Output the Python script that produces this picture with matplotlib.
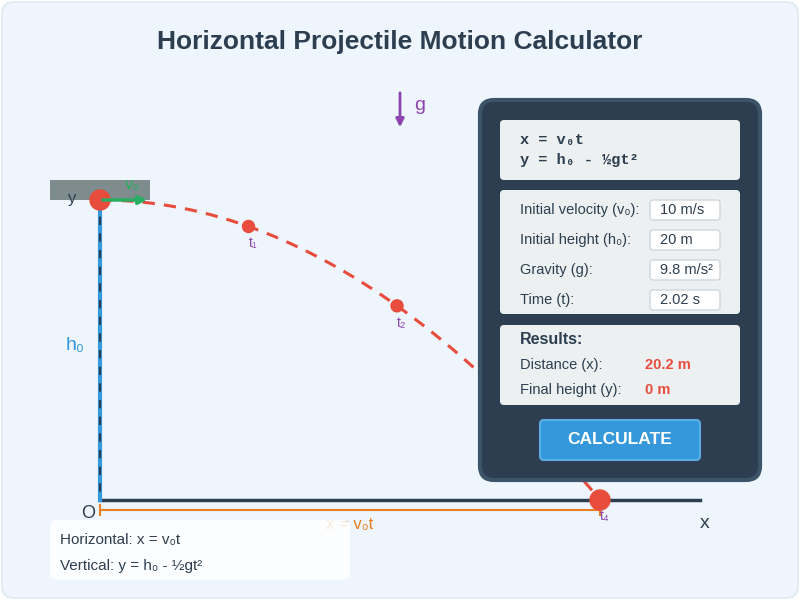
import numpy as np
import matplotlib
matplotlib.use('Agg')
import matplotlib.pyplot as plt
from matplotlib.patches import FancyBboxPatch, Rectangle, Circle

plt.rcParams['font.family'] = ['Liberation Sans', 'DejaVu Sans']

# physics values
V0 = 10.0      # m/s
H0 = 20.0      # m
G = 9.8        # m/s^2
T_FLIGHT = 2.02
MARK_TIMES = [0.6, 1.2]
MARK_LABELS = ['t₁', 't₂']
INPUT_LABELS = ['Initial velocity (v₀):', 'Initial height (h₀):', 'Gravity (g):', 'Time (t):']
INPUT_VALUES = ['10 m/s', '20 m', '9.8 m/s²', '2.02 s']
RESULT_LABELS = ['Distance (x):', 'Final height (y):']
RESULT_VALUES = ['20.2 m', '0 m']

# pixel mapping of the scene
X0, Y0 = 100, 200          # launch point
SX = 500 / (V0 * T_FLIGHT)  # px per metre horizontally
SY = 300 / H0               # px per metre vertically


def to_px(xm, ym):
    return X0 + xm * SX, Y0 + (H0 - ym) * SY


fig = plt.figure(figsize=(8, 6), dpi=100)
ax = fig.add_axes([0, 0, 1, 1])
ax.set_xlim(0, 800)
ax.set_ylim(600, 0)
ax.axis('off')
fig.patch.set_facecolor('white')

ax.add_patch(FancyBboxPatch((2, 2), 796, 596, boxstyle='round,pad=0,rounding_size=12',
                            facecolor='#eef5fd', edgecolor='#dde6f0', lw=1))
ax.text(400, 42, 'Horizontal Projectile Motion Calculator', ha='center', va='center',
        fontsize=19, fontweight='bold', color='#2c3e50')

# ground / platform
ax.plot([100, 700], [500, 500], color='#2c3e50', lw=2.5)
ax.add_patch(Rectangle((50, 180), 100, 20, facecolor='#7f8c8d'))
ax.text(72, 198, 'y', fontsize=12, color='#2c3e50', ha='center', va='center')
ax.plot([100, 100], [200, 500], color='#3498db', lw=3)
ax.plot([100, 100], [200, 500], color='#2c3e50', lw=1.5, ls=(0, (4, 4)))
ax.text(75, 345, 'h₀', fontsize=14, color='#3498db', ha='center', va='center')
ax.text(88, 513, 'O', fontsize=13, color='#2c3e50', ha='center', va='center')
ax.text(705, 524, 'x', fontsize=14, color='#2c3e50', ha='center', va='center')

# trajectory
t = np.linspace(0, T_FLIGHT, 200)
px, py = to_px(V0 * t, H0 - 0.5 * G * t ** 2)
ax.plot(px, py, color='#e74c3c', lw=2.2, ls=(0, (4, 3)), zorder=2)
for tm, lab in zip(MARK_TIMES, MARK_LABELS):
    mx, my = to_px(V0 * tm, H0 - 0.5 * G * tm ** 2)
    ax.add_patch(Circle((mx, my), 6, color='#e74c3c', zorder=3))
    ax.text(mx + 5, my + 17, lab, fontsize=10, color='#8e44ad', ha='center', va='center')

# velocity arrow
ax.add_patch(Circle((100, 200), 10, color='#e74c3c', zorder=4))
ax.annotate('', xy=(150, 200), xytext=(100, 200),
            arrowprops=dict(arrowstyle='-|>', color='#27ae60', lw=2.5, mutation_scale=12), zorder=5)
ax.text(133, 185, 'v₀', fontsize=12, color='#27ae60', ha='center', va='center')

# gravity arrow
ax.annotate('', xy=(400, 130), xytext=(400, 90),
            arrowprops=dict(arrowstyle='-|>', color='#8e44ad', lw=2, mutation_scale=12))
ax.text(420, 105, 'g', fontsize=14, color='#8e44ad', ha='center', va='center')

# panel
ax.add_patch(FancyBboxPatch((480, 100), 280, 380, boxstyle='round,pad=0,rounding_size=14',
                            facecolor='#2c3e50', edgecolor='#3d5368', lw=3, zorder=6))
ax.add_patch(FancyBboxPatch((500, 120), 240, 60, boxstyle='round,pad=0,rounding_size=4',
                            facecolor='#ecf0f1', edgecolor='none', zorder=7))
ax.text(520, 140, 'x = v₀t', fontsize=11, fontweight='bold', family=['Liberation Mono', 'DejaVu Sans Mono'],
        color='#2c3e50', va='center', zorder=8)
ax.text(520, 160, 'y = h₀ - ½gt²', fontsize=11, fontweight='bold', family=['Liberation Mono', 'DejaVu Sans Mono'],
        color='#2c3e50', va='center', zorder=8)

ax.add_patch(FancyBboxPatch((500, 190), 240, 124, boxstyle='round,pad=0,rounding_size=4',
                            facecolor='#ecf0f1', edgecolor='none', zorder=7))
for i, (lab, val) in enumerate(zip(INPUT_LABELS, INPUT_VALUES)):
    y = 210 + i * 30
    ax.text(520, y, lab, fontsize=10.5, color='#2c3e50', va='center', zorder=8)
    ax.add_patch(FancyBboxPatch((650, y - 10), 70, 20, boxstyle='round,pad=0,rounding_size=3',
                                facecolor='white', edgecolor='#cfd6dc', lw=1, zorder=8))
    ax.text(660, y, val, fontsize=10.5, color='#2c3e50', va='center', zorder=9)

ax.add_patch(FancyBboxPatch((500, 325), 240, 80, boxstyle='round,pad=0,rounding_size=4',
                            facecolor='#ecf0f1', edgecolor='none', zorder=7))
ax.text(520, 340, 'Results:', fontsize=11.5, fontweight='bold', color='#2c3e50', va='center', zorder=8)
for i, (lab, val) in enumerate(zip(RESULT_LABELS, RESULT_VALUES)):
    y = 365 + i * 25
    ax.text(520, y, lab, fontsize=10.5, color='#2c3e50', va='center', zorder=8)
    ax.text(645, y, val, fontsize=10.5, fontweight='bold', color='#e74c3c', va='center', zorder=8)

ax.add_patch(FancyBboxPatch((540, 420), 160, 40, boxstyle='round,pad=0,rounding_size=4',
                            facecolor='#3498db', edgecolor='#5dade2', lw=1.5, zorder=7))
ax.text(620, 439, 'CALCULATE', fontsize=12.5, fontweight='bold', color='white',
        ha='center', va='center', zorder=8)

# landing point
ax.add_patch(Circle((600, 500), 10, color='#e74c3c', zorder=5))
ax.text(605, 516, 't₄', fontsize=10, color='#8e44ad', ha='center', va='center', zorder=6)

# distance marker
ax.plot([100, 600], [510, 510], color='#e67e22', lw=1.5)
ax.plot([100, 100], [505, 515], color='#e67e22', lw=1.5)
ax.plot([600, 600], [505, 515], color='#e67e22', lw=1.5)
ax.text(350, 524, 'x = v₀t', fontsize=12, color='#e67e22', ha='center', va='center')

# legend box
ax.add_patch(FancyBboxPatch((50, 520), 300, 60, boxstyle='round,pad=0,rounding_size=8',
                            facecolor='white', edgecolor='none', alpha=0.85, zorder=6))
ax.text(60, 540, 'Horizontal: x = v₀t', fontsize=11, color='#2c3e50', va='center', zorder=7)
ax.text(60, 566, 'Vertical: y = h₀ - ½gt²', fontsize=11, color='#2c3e50', va='center', zorder=7)

fig.savefig('out.png', dpi=100)
